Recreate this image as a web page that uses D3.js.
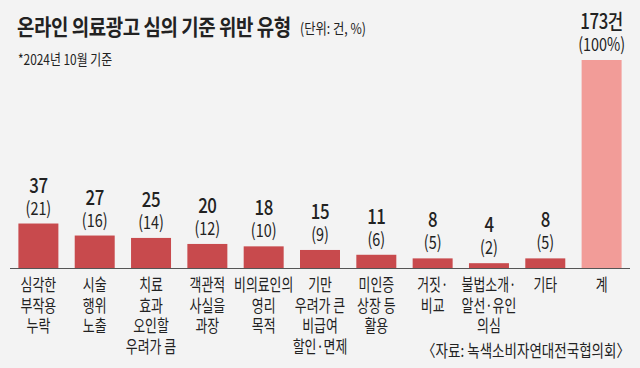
<!DOCTYPE html>
<html><head><meta charset="utf-8">
<script src="https://cdn.jsdelivr.net/npm/d3@7"></script>
<style>
html,body{margin:0;padding:0;background:#f3f3f3;}
svg{display:block;}
text{font-family:"Noto Sans CJK KR","Noto Sans",sans-serif;fill:#222;}
</style></head>
<body>
<script>
const categories = [
  ["심각한","부작용","누락"],
  ["시술","행위","노출"],
  ["치료","효과","오인할","우려가 큼"],
  ["객관적","사실을","과장"],
  ["비의료인의","영리","목적"],
  ["기만","우려가 큰","비급여","할인·면제"],
  ["미인증","상장 등","활용"],
  ["거짓·","비교"],
  ["불법소개·","알선·유인","의심"],
  ["기타"],
  ["계"]
];
const counts = [37,27,25,20,18,15,11,8,4,8,173];
const percents = [21,16,14,12,10,9,6,5,2,5,100];
const title = "온라인 의료광고 심의 기준 위반 유형";
const unit = "(단위: 건, %)";
const note = "*2024년 10월 기준";
const source = "〈자료: 녹색소비자연대전국협의회〉";

const W=640,H=368;
const svg=d3.select("body").append("svg").attr("width",W).attr("height",H);
svg.append("rect").attr("width",W).attr("height",H).attr("fill","#f3f3f3");

const x=d3.scaleBand().domain(d3.range(counts.length)).range([1.5,638.5]).paddingInner(0.29).paddingOuter(0.3);
const y=d3.scaleLinear().domain([0,173]).range([268,60]);
const cx=i=>x(i)+x.bandwidth()/2;

function ctext(parent,px,py,sx,str,opts){
  const t=parent.append("text")
    .attr("transform",`translate(${px},${py}) scale(${sx},1)`)
    .attr("x",0).attr("y",0).text(str);
  Object.entries(opts||{}).forEach(([k,v])=>t.attr(k,v));
  return t;
}

svg.selectAll("rect.bar").data(counts).join("rect")
  .attr("class","bar")
  .attr("x",(d,i)=>x(i)).attr("width",x.bandwidth())
  .attr("y",d=>y(d)).attr("height",d=>y(0)-y(d))
  .attr("fill",(d,i)=>i===counts.length-1?"#f29c98":"#c84a4d");

const xAxis=d3.axisBottom(x).tickSize(0).tickFormat("");
const ax=svg.append("g").attr("transform",`translate(0,${y(0)})`).call(xAxis);
ax.select(".domain").attr("d","M10,0.5H630").attr("stroke","#555").attr("stroke-width",1.2);

const last=counts.length-1;
counts.forEach((d,i)=>{
  ctext(svg,cx(i),y(d)-31,0.8,i===last?d+"건":String(d),
    {"text-anchor":"middle","font-size":21,"font-weight":500,"letter-spacing":-0.5});
  ctext(svg,cx(i),y(d)-9,0.8,i===last?`(${percents[i]}%)`:`(${percents[i]})`,
    {"text-anchor":"middle","font-size":18});
});

categories.forEach((lines,i)=>{
  lines.forEach((l,j)=>{
    ctext(svg,cx(i),291+j*20.5,0.76,l,{"text-anchor":"middle","font-size":17});
  });
});

ctext(svg,17,35,0.86,title,{"font-size":22,"font-weight":700,"letter-spacing":-0.5});
ctext(svg,300,34,0.82,unit,{"font-size":15,"fill":"#333"});
ctext(svg,18,65,0.82,note,{"font-size":14.5});
ctext(svg,630,357,0.82,source,{"text-anchor":"end","font-size":16.5});
</script>
</body></html>
